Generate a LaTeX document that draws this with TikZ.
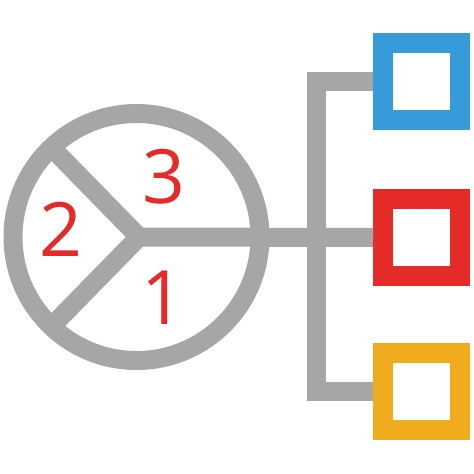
\documentclass[tikz,border=0pt]{standalone}
\usepackage{fontspec}
\setmainfont{Open Sans}
\definecolor{gbar}{HTML}{A6A6A7}
\definecolor{ired}{HTML}{E42B27}
\definecolor{iblue}{HTML}{379BD9}
\definecolor{iorange}{HTML}{F0AC1C}
\begin{document}
\begin{tikzpicture}[x=1pt,y=-1pt,
  bar/.style={draw=gbar,line width=19pt,line join=miter},
  boxsq/.style={draw=#1,line width=20pt,minimum size=77pt,inner sep=0pt,rectangle},
  digit/.style={text=ired,inner sep=0pt,font=\fontsize{75}{75}\selectfont}]
\useasboundingbox[fill=white] (0,0) rectangle (474,474);
\node[circle,draw=gbar,line width=19pt,minimum size=247pt,inner sep=0pt] (pie) at (136.5,237) {};
\coordinate (jn) at (139,237);
\coordinate (au) at (51,147);
\coordinate (al) at (51,327);
\coordinate (vt) at (316,81.5);
\coordinate (vb) at (316,391.5);
\node[boxsq=iblue] (sb) at (421.5,81.5) {};
\node[boxsq=ired] (sr) at (421.5,237.5) {};
\node[boxsq=iorange] (so) at (421.5,391.5) {};
\draw[bar] (au) -- (jn) -- (al);
\draw[bar] (jn) -- (sr.west);
\draw[bar] (sb.west) -- (vt) -- (vb) -- (so.west);
\node[digit] (d3) at (163.5,176.5) {3};
\node[digit] (d2) at (61,229.5) {2};
\node[digit] (d1) at (163,297.5) {1};
\end{tikzpicture}
\end{document}
